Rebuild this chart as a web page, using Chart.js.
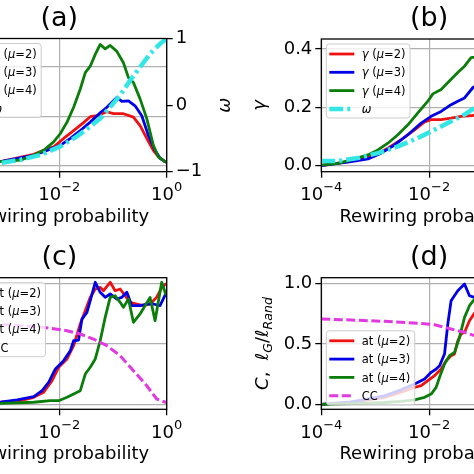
<!DOCTYPE html>
<html><head><meta charset="utf-8">
<script src="https://cdn.jsdelivr.net/npm/chart.js@4"></script>
<style>
html,body{margin:0;padding:0;background:#fff;}
body{width:474px;height:474px;overflow:hidden;position:relative;}
canvas{position:absolute;}
</style></head><body>
<canvas id="ca" width="360" height="237" style="left:-120px;top:0px;width:360px;height:237px"></canvas>
<canvas id="cb" width="320" height="237" style="left:237px;top:0px;width:320px;height:237px"></canvas>
<canvas id="cc" width="360" height="237" style="left:-120px;top:237px;width:360px;height:237px"></canvas>
<canvas id="cd" width="320" height="237" style="left:237px;top:237px;width:320px;height:237px"></canvas>
<script>
// ---------- shared axis data ----------
const xTickVals = [-4, -2, 0];               // log10(rewiring probability)
const xTickBase = ['10', '10', '10'];
const xTickExponents = ['\u22124', '\u22122', '0'];
const xTitle = 'Rewiring probability';

// ---------- panel (a) ----------
const aSigmaTicks = [1, 2, 3];
const aOmegaTicks = [-1, 0, 1];
const aOmegaTickLabels = ['\u22121', '0', '1'];
const aLabels = ['\u03C3 (\u03BC=2)', '\u03C3 (\u03BC=3)', '\u03C3 (\u03BC=4)', '\u03C9'];
const aLogpRed = [-4, -3.5, -3.096, -2.477, -2.292, -2.106, -1.920, -1.734, -1.549, -1.424, -1.300, -1.114, -0.992, -0.806, -0.620, -0.496, -0.371, -0.249, -0.156, -0.032, 0];
const aSigmaRed = [1.0, 1.03, 1.08, 1.23, 1.31, 1.38, 1.55, 1.71, 1.87, 1.99, 2.01, 2.09, 2.05, 2.05, 1.98, 1.81, 1.55, 1.31, 1.18, 1.08, 1.07];
const aLogpBlue = [-4, -3.5, -3.096, -2.477, -2.228, -1.981, -1.796, -1.610, -1.424, -1.239, -1.114, -0.992, -0.929, -0.836, -0.713, -0.589, -0.464, -0.342, -0.217, -0.124, -0.032, 0];
const aSigmaBlue = [1.0, 1.03, 1.08, 1.21, 1.31, 1.41, 1.55, 1.71, 1.88, 2.07, 2.18, 2.31, 2.38, 2.30, 2.31, 2.21, 2.01, 1.61, 1.31, 1.15, 1.08, 1.07];
const aLogpGreen = [-4, -3.5, -3.096, -2.724, -2.477, -2.292, -2.106, -1.981, -1.857, -1.734, -1.610, -1.517, -1.424, -1.331, -1.239, -1.146, -1.053, -0.929, -0.806, -0.713, -0.620, -0.496, -0.371, -0.249, -0.156, -0.032, 0];
const aSigmaGreen = [1.0, 1.03, 1.08, 1.11, 1.21, 1.31, 1.48, 1.65, 1.88, 2.18, 2.55, 2.88, 3.01, 3.25, 3.45, 3.36, 3.43, 3.31, 3.08, 2.78, 2.68, 2.35, 1.95, 1.41, 1.18, 1.08, 1.07];
const aLogpOmega = [-4, -3.5, -3.096, -2.724, -2.353, -1.981, -1.671, -1.424, -1.239, -1.053, -0.867, -0.682, -0.496, -0.310, -0.124, -0.019, 0];
const aOmega = [-0.95, -0.91, -0.87, -0.82, -0.75, -0.62, -0.47, -0.32, -0.20, -0.03, 0.15, 0.37, 0.57, 0.77, 0.92, 0.985, 1.0];

// ---------- panel (b) ----------
const bGammaTicks = [0, 0.2, 0.4];
const bGammaTickLabels = ['0.0', '0.2', '0.4'];
const bLabels = ['\u03B3 (\u03BC=2)', '\u03B3 (\u03BC=3)', '\u03B3 (\u03BC=4)', '\u03C9'];
const bLogpRed = [-4, -3.444, -3.011, -2.765, -2.519, -2.270, -2.085, -1.963, -1.778, -1.593, -1.407, -1.191, -1.0, -0.5, 0];
const bGammaRed = [0.0, 0.016, 0.037, 0.060, 0.089, 0.123, 0.150, 0.158, 0.158, 0.163, 0.169, 0.172, 0.18, 0.19, 0.20];
const bLogpBlue = [-4, -3.444, -3.135, -2.889, -2.641, -2.394, -2.148, -1.963, -1.778, -1.593, -1.469, -1.344, -1.191, -1.0, -0.5, 0];
const bGammaBlue = [0.0, 0.014, 0.023, 0.043, 0.071, 0.106, 0.146, 0.169, 0.186, 0.209, 0.221, 0.232, 0.267, 0.29, 0.31, 0.32];
const bLogpGreen = [-4, -3.691, -3.444, -3.135, -2.950, -2.765, -2.580, -2.394, -2.209, -2.024, -1.931, -1.778, -1.593, -1.469, -1.344, -1.222, -1.159, -1.0, -0.5, 0];
const bGammaGreen = [0.002, 0.008, 0.020, 0.037, 0.054, 0.077, 0.106, 0.140, 0.181, 0.221, 0.246, 0.261, 0.296, 0.319, 0.341, 0.370, 0.372, 0.39, 0.40, 0.41];
const bLogpOmega = [-4, -3.691, -3.320, -2.950, -2.580, -2.209, -1.900, -1.593, -1.344, -1.159, -1.0, -0.5, 0];
const bOmega = [0.016, 0.016, 0.026, 0.043, 0.066, 0.095, 0.123, 0.152, 0.175, 0.198, 0.22, 0.29, 0.35];

// ---------- panels (c) and (d) ----------
const cdTicks = [0, 0.5, 1.0];
const cdTickLabels = ['0.0', '0.5', '1.0'];
const cdLabels = ['at (\u03BC=2)', 'at (\u03BC=3)', 'at (\u03BC=4)', 'CC'];
const cLogpRed = [-4, -3.5, -3.096, -2.724, -2.477, -2.292, -2.136, -2.013, -1.857, -1.734, -1.610, -1.517, -1.424, -1.331, -1.239, -1.177, -1.053, -0.960, -0.867, -0.774, -0.682, -0.557, -0.435, -0.310, -0.186, -0.093, -0.019, 0];
const cRed = [0.0, 0.008, 0.017, 0.030, 0.058, 0.10, 0.196, 0.307, 0.376, 0.486, 0.666, 0.776, 0.887, 0.956, 0.970, 0.942, 1.012, 0.942, 0.956, 0.900, 0.846, 0.832, 0.818, 0.832, 0.887, 0.970, 0.997, 0.99];
const cLogpBlue = [-4, -3.5, -3.096, -2.786, -2.477, -2.321, -2.199, -2.074, -1.920, -1.796, -1.734, -1.642, -1.579, -1.486, -1.424, -1.331, -1.239, -1.146, -1.053, -0.929, -0.836, -0.743, -0.650, -0.496, -0.371, -0.249, -0.124, -0.019, 0];
const cBlue = [0.0, 0.008, 0.017, 0.036, 0.063, 0.113, 0.182, 0.293, 0.362, 0.444, 0.527, 0.533, 0.707, 0.763, 0.859, 1.012, 0.929, 0.887, 0.915, 0.873, 0.887, 0.929, 0.818, 0.818, 0.832, 0.832, 0.818, 0.915, 0.93];
const cLogpGreen = [-4, -3.5, -3.096, -2.477, -2.167, -2.013, -1.857, -1.734, -1.610, -1.517, -1.424, -1.331, -1.239, -1.146, -1.053, -0.960, -0.867, -0.806, -0.713, -0.620, -0.496, -0.310, -0.217, -0.093, -0.019, 0];
const cGreen = [0.0, 0.004, 0.008, 0.017, 0.030, 0.030, 0.058, 0.085, 0.113, 0.251, 0.307, 0.376, 0.527, 0.721, 0.887, 0.900, 0.846, 0.804, 0.873, 0.680, 0.749, 0.887, 0.693, 1.012, 0.915, 0.93];
const cLogpCC = [-4, -3.0, -2.292, -1.857, -1.610, -1.363, -1.114, -0.867, -0.620, -0.371, -0.186, -0.019, 0];
const cCC = [0.67, 0.66, 0.638, 0.610, 0.583, 0.541, 0.486, 0.403, 0.279, 0.154, 0.044, 0.017, 0.015];

const dLogpRed = [-4, -3.444, -2.826, -2.519, -2.270, -2.148, -2.024, -1.900, -1.778, -1.685, -1.593, -1.530, -1.469, -1.407, -1.344, -1.252, -1.191, -1.0, -0.5, 0];
const dRed = [0.0, 0.017, 0.058, 0.10, 0.141, 0.154, 0.196, 0.237, 0.293, 0.362, 0.403, 0.417, 0.527, 0.583, 0.597, 0.693, 0.735, 0.85, 0.9, 0.95];
const dLogpBlue = [-4, -3.444, -2.826, -2.519, -2.270, -2.085, -1.963, -1.870, -1.807, -1.715, -1.654, -1.593, -1.469, -1.344, -1.252, -1.159, -1.0, -0.5, 0];
const dBlue = [0.0, 0.02, 0.07, 0.12, 0.168, 0.210, 0.265, 0.293, 0.320, 0.417, 0.666, 0.859, 0.942, 0.997, 0.900, 0.887, 0.9, 0.85, 0.9];
const dLogpGreen = [-4, -3.444, -2.826, -2.519, -2.270, -2.085, -1.963, -1.870, -1.807, -1.715, -1.623, -1.530, -1.437, -1.344, -1.252, -1.159, -1.0, -0.5, 0];
const dGreen = [0.0, 0.005, 0.015, 0.025, 0.036, 0.058, 0.085, 0.141, 0.224, 0.334, 0.403, 0.431, 0.556, 0.721, 0.818, 0.873, 0.95, 0.9, 0.95];
const dLogpCC = [-4, -3.444, -2.826, -2.209, -1.900, -1.593, -1.344, -1.159, -0.8, -0.5, -0.2, 0];
const dCC = [0.707, 0.699, 0.688, 0.672, 0.660, 0.624, 0.597, 0.569, 0.47, 0.3, 0.1, 0.02];

// ---------- styling ----------
const FAM = 'DejaVu Sans';
const CFAM = '"DejaVu Sans"';
const RED = '#ee1111', BLUE = '#0000e8', GREEN = '#0a7d0a', CYAN = '#33e6e6', MAG = '#e03ae0';
const DASHDOT = [14, 4, 3, 4], DASH = [9, 3.5];
const LW = 2.8;
const GRID = {color: '#b0b0b0', lineWidth: 1.2, tickColor: '#000', tickLength: 6, tickWidth: 1.3, drawTicks: true, drawOnChartArea: true};
const TFONT = {family: FAM, size: 18};

Chart.defaults.font.family = FAM;

function pts(lp, v) { return lp.map((x, i) => ({x: x, y: v[i]})); }
function series(label, lp, v, color, width, dash, order, axis) {
  return {label: label, data: pts(lp, v), borderColor: color, backgroundColor: color,
    borderWidth: width, borderDash: dash || [], pointRadius: 0, pointHoverRadius: 0,
    tension: 0, fill: false, order: order, yAxisID: axis || 'y', clip: 0,
    borderJoinStyle: 'round', borderCapStyle: dash ? 'butt' : 'round'};
}

function fontStr(size, it) { return (it ? 'italic ' : '') + size + 'px ' + CFAM; }
function autoSegs(s) {
  const segs = [];
  for (const ch of s) {
    const it = /[\u0370-\u03ff\u2113]/.test(ch);
    const last = segs[segs.length - 1];
    if (last && last.it === it) last.t += ch; else segs.push({t: ch, it: it});
  }
  return segs;
}
function richWidth(ctx, segs, size) {
  let w = 0;
  for (const s of segs) { ctx.font = fontStr(s.sub ? size * 0.7 : size, s.it); w += ctx.measureText(s.t).width; }
  return w;
}
function drawRich(ctx, segs, x, y, size) {
  let cx = x;
  ctx.textAlign = 'left'; ctx.textBaseline = 'alphabetic';
  for (const s of segs) {
    const sz = s.sub ? size * 0.7 : size;
    ctx.font = fontStr(sz, s.it);
    ctx.fillText(s.t, cx, y + (s.sub ? size * 0.22 : 0));
    cx += ctx.measureText(s.t).width;
  }
}
function drawLegend(ctx, a, chart, corner) {
  const ds = chart.data.datasets;
  const size = 11.5, rowH = 18.3, first = 10, h = 74;
  let maxw = 0;
  ds.forEach(d => { maxw = Math.max(maxw, richWidth(ctx, autoSegs(d.label), size)); });
  const w = 35.5 + maxw + 4.5;
  const x = a.left + 5;
  const y = corner === 'll' ? a.bottom - 4.5 - h : a.top + 5;
  const r = 3;
  ctx.save();
  ctx.setLineDash([]);
  ctx.beginPath();
  ctx.moveTo(x + r, y); ctx.lineTo(x + w - r, y); ctx.arcTo(x + w, y, x + w, y + r, r);
  ctx.lineTo(x + w, y + h - r); ctx.arcTo(x + w, y + h, x + w - r, y + h, r);
  ctx.lineTo(x + r, y + h); ctx.arcTo(x, y + h, x, y + h - r, r);
  ctx.lineTo(x, y + r); ctx.arcTo(x, y, x + r, y, r); ctx.closePath();
  ctx.fillStyle = 'rgba(255,255,255,0.8)'; ctx.fill();
  ctx.strokeStyle = '#cccccc'; ctx.lineWidth = 1; ctx.stroke();
  ds.forEach((d, i) => {
    const cy = y + first + i * rowH;
    ctx.beginPath();
    ctx.setLineDash(d.borderDash || []); ctx.lineDashOffset = 0; ctx.lineCap = 'butt';
    ctx.strokeStyle = d.borderColor; ctx.lineWidth = d.borderWidth;
    ctx.moveTo(x + 3, cy); ctx.lineTo(x + 28, cy); ctx.stroke();
    ctx.setLineDash([]);
    ctx.fillStyle = '#000';
    drawRich(ctx, autoSegs(d.label), x + 35.5, cy + 4.1, size);
  });
  ctx.restore();
}

const decoPlugin = {
  id: 'deco',
  afterDatasetsDraw(chart, args, o) {
    const ctx = chart.ctx, a = chart.chartArea;
    ctx.save();
    ctx.setLineDash([]); ctx.strokeStyle = '#000'; ctx.lineWidth = 1.3;
    ctx.strokeRect(a.left, a.top, a.right - a.left, a.bottom - a.top);
    ctx.restore();
    drawLegend(ctx, a, chart, o.corner);
    ctx.save();
    ctx.fillStyle = '#000';
    ctx.font = '27px ' + CFAM; ctx.textAlign = 'center'; ctx.textBaseline = 'alphabetic';
    ctx.fillText(o.label, (a.left + a.right) / 2, o.labelY);
    // x tick labels as 10 with raised exponent, placed by the x scale
    const xs = chart.scales.x;
    ctx.textAlign = 'left';
    xTickVals.forEach((v, i) => {
      const px = xs.getPixelForValue(v);
      ctx.font = '18px ' + CFAM; const w1 = ctx.measureText(xTickBase[i]).width;
      ctx.font = '13px ' + CFAM; const w2 = ctx.measureText(xTickExponents[i]).width;
      const x0 = px - (w1 + w2) / 2, yb = a.bottom + 28.2;
      ctx.font = '18px ' + CFAM; ctx.fillText(xTickBase[i], x0, yb);
      ctx.font = '13px ' + CFAM; ctx.fillText(xTickExponents[i], x0 + w1, yb - 8.5);
    });
    ctx.restore();
    (o.ytitles || []).forEach(t => {
      ctx.save();
      ctx.fillStyle = '#000';
      ctx.translate(t.x, (a.top + a.bottom) / 2);
      ctx.rotate(-Math.PI / 2);
      const w = richWidth(ctx, t.segs, 18);
      drawRich(ctx, t.segs, -w / 2, 0, 18);
      ctx.restore();
    });
  }
};

function xAxis(height, titlePad) {
  return {
    type: 'linear', min: -4, max: 0,
    afterBuildTicks: s => { s.ticks = xTickVals.map(v => ({value: v})); },
    ticks: {display: false, maxRotation: 0, minRotation: 0, autoSkip: false},
    grid: GRID, border: {display: false},
    title: {display: true, text: xTitle, color: '#000', font: TFONT, padding: {top: 0, bottom: titlePad}},
    afterFit: s => { s.height = height; }
  };
}
function yAxis(pos, min, max, tickVals, tickLabels, width, showLabels, gridOn) {
  return {
    type: 'linear', position: pos, min: min, max: max,
    afterBuildTicks: s => { s.ticks = tickVals.map(v => ({value: v})); },
    ticks: {display: showLabels, callback: (v, i) => tickLabels ? tickLabels[i] : String(v), color: '#000', font: TFONT, padding: 3, autoSkip: false},
    grid: Object.assign({}, GRID, {drawOnChartArea: gridOn}), border: {display: false},
    afterFit: s => { s.width = width; }
  };
}
function makeChart(id, datasets, scales, padding, deco) {
  return new Chart(document.getElementById(id), {
    type: 'line',
    data: {datasets: datasets},
    options: {
      responsive: false, animation: false, devicePixelRatio: 1, events: [],
      layout: {padding: padding},
      scales: scales,
      plugins: {legend: {display: false}, tooltip: {enabled: false}, deco: deco}
    },
    plugins: [decoPlugin]
  });
}

// (a)
makeChart('ca', [
  series(aLabels[0], aLogpRed, aSigmaRed, RED, LW, null, 4, 'y'),
  series(aLabels[1], aLogpBlue, aSigmaBlue, BLUE, LW, null, 3, 'y'),
  series(aLabels[2], aLogpGreen, aSigmaGreen, GREEN, LW, null, 2, 'y'),
  series(aLabels[3], aLogpOmega, aOmega, CYAN, 4.5, DASHDOT, 1, 'y1')
], {
  x: xAxis(65.3, 9),
  y: yAxis('left', 0.878, 3.57, aSigmaTicks, null, 72, false, true),
  y1: yAxis('right', -1, 1, aOmegaTicks, aOmegaTickLabels, 73.3, true, false)
}, {top: 38.5, left: 0, right: 0, bottom: 0},
{label: '(a)', labelY: 26.4, corner: 'ul', ytitles: [{x: 350, segs: [{t: '\u03C9', it: true}]}]});

// (b)
makeChart('cb', [
  series(bLabels[0], bLogpRed, bGammaRed, RED, LW, null, 4),
  series(bLabels[1], bLogpBlue, bGammaBlue, BLUE, LW, null, 3),
  series(bLabels[2], bLogpGreen, bGammaGreen, GREEN, LW, null, 2),
  series(bLabels[3], bLogpOmega, bOmega, CYAN, 4.5, DASHDOT, 1)
], {
  x: xAxis(65.3, 9),
  y: yAxis('left', -0.0206, 0.434, bGammaTicks, bGammaTickLabels, 84.3, true, true)
}, {top: 39, left: 0, right: 20, bottom: 0},
{label: '(b)', labelY: 26.4, corner: 'ul', ytitles: [{x: 28.1, segs: [{t: '\u03B3', it: true}]}]});

// (c)
makeChart('cc', [
  series(cdLabels[0], cLogpRed, cRed, RED, LW, null, 4),
  series(cdLabels[1], cLogpBlue, cBlue, BLUE, LW, null, 3),
  series(cdLabels[2], cLogpGreen, cGreen, GREEN, LW, null, 2),
  series(cdLabels[3], cLogpCC, cCC, MAG, 3, DASH, 1)
], {
  x: xAxis(64.7, 8.5),
  y: yAxis('left', -0.0415, 1.05, cdTicks, cdTickLabels, 72, false, true)
}, {top: 40.7, left: 0, right: 73.3, bottom: 0},
{label: '(c)', labelY: 28.1, corner: 'ul', ytitles: []});

// (d)
makeChart('cd', [
  series(cdLabels[0], dLogpRed, dRed, RED, LW, null, 4),
  series(cdLabels[1], dLogpBlue, dBlue, BLUE, LW, null, 3),
  series(cdLabels[2], dLogpGreen, dGreen, GREEN, LW, null, 2),
  series(cdLabels[3], dLogpCC, dCC, MAG, 3, DASH, 1)
], {
  x: xAxis(64.7, 8.5),
  y: yAxis('left', -0.0415, 1.05, cdTicks, cdTickLabels, 84.3, true, true)
}, {top: 40.7, left: 0, right: 20, bottom: 0},
{label: '(d)', labelY: 28.1, corner: 'll', ytitles: [{x: 30.7, segs: [
  {t: 'C', it: true}, {t: ',  '}, {t: '\u2113', it: true}, {t: 'G', it: true, sub: true},
  {t: '/'}, {t: '\u2113', it: true}, {t: 'Rand', it: true, sub: true}]}]});
</script>
</body></html>
